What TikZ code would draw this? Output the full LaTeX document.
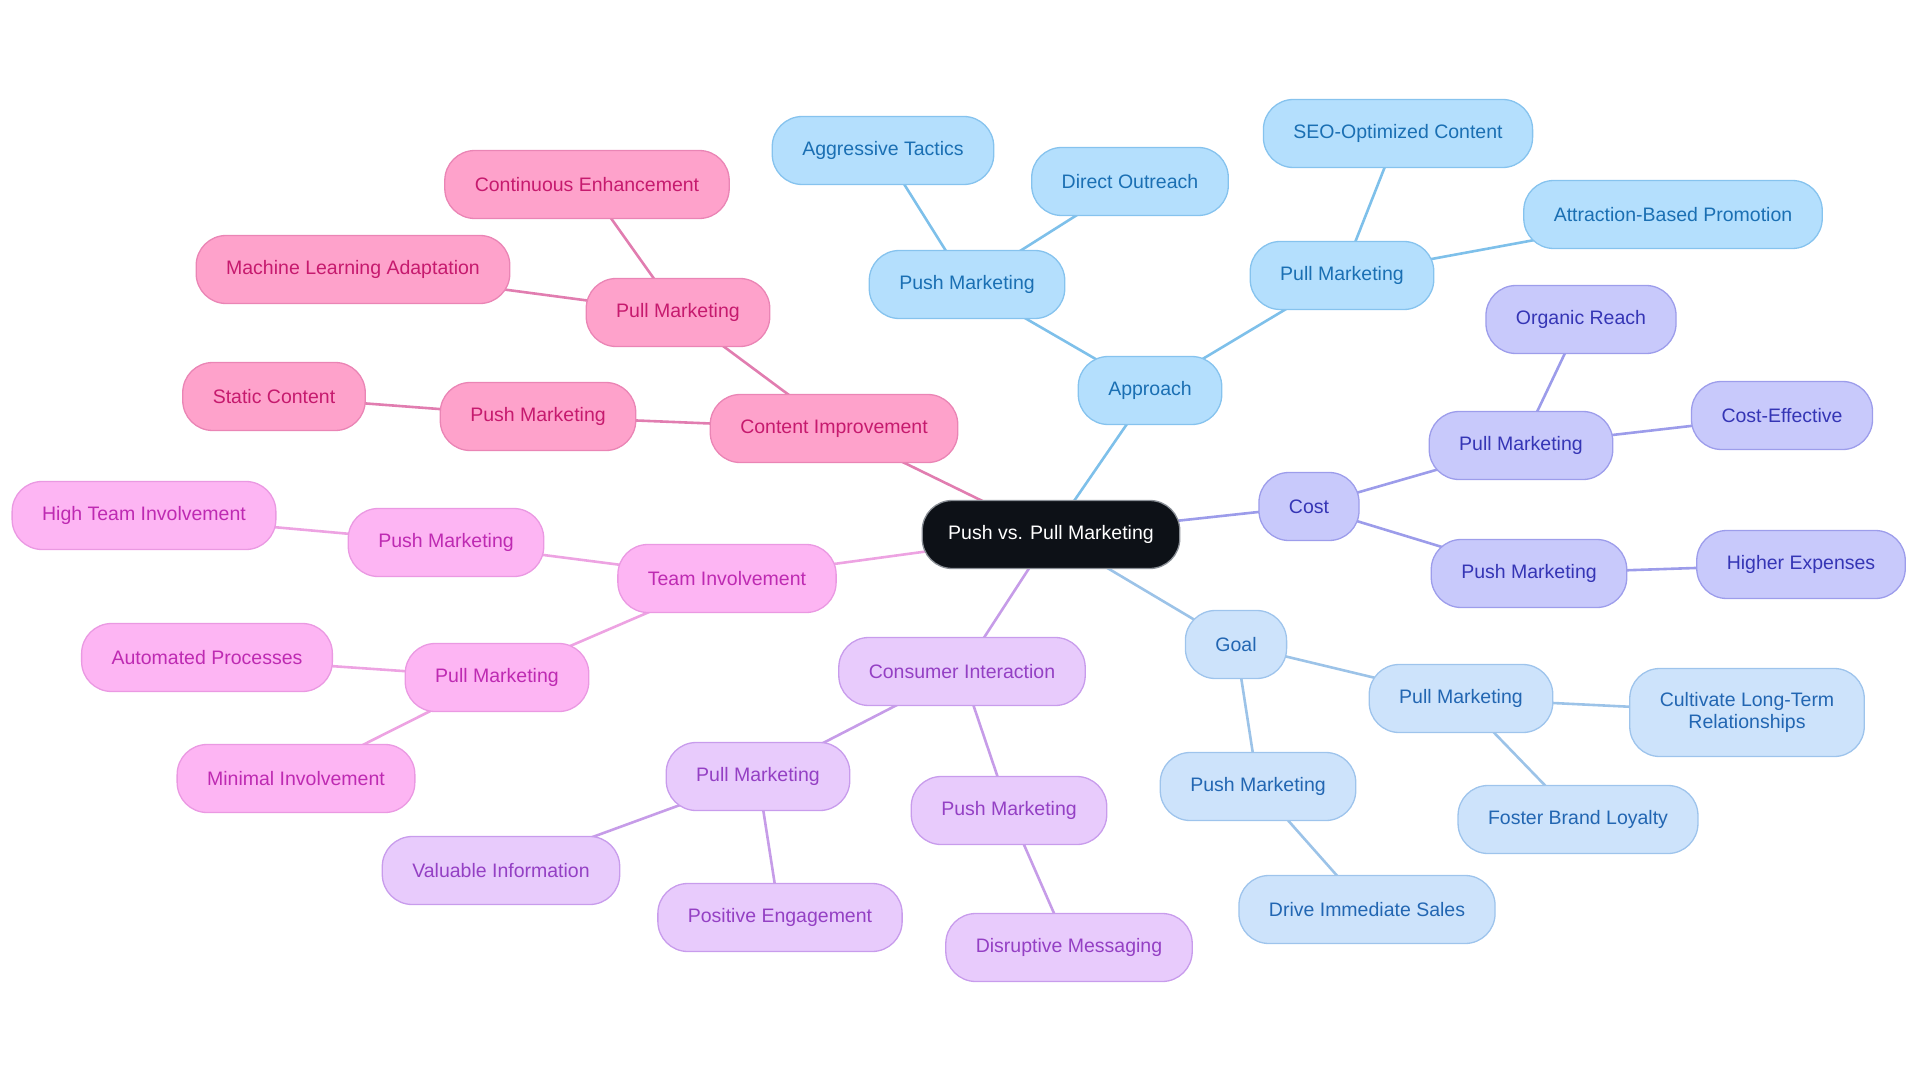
\documentclass[tikz,border=0pt]{standalone}
\usepackage{fontspec}
\setmainfont{Liberation Sans}
\usetikzlibrary{backgrounds}
\definecolor{cFill}{HTML}{0D1117}
\definecolor{cDraw}{HTML}{8A8F96}
\definecolor{apFill}{HTML}{B4DFFD}\definecolor{apDraw}{HTML}{86C3EE}\definecolor{apText}{HTML}{1A6FB3}\definecolor{apEdge}{HTML}{7EC0EA}
\definecolor{coFill}{HTML}{C8C9FB}\definecolor{coDraw}{HTML}{9D9DEB}\definecolor{coText}{HTML}{3535B5}\definecolor{coEdge}{HTML}{9C9CEA}
\definecolor{goFill}{HTML}{CDE3FB}\definecolor{goDraw}{HTML}{9EC4EC}\definecolor{goText}{HTML}{2266B2}\definecolor{goEdge}{HTML}{9CC3E8}
\definecolor{ciFill}{HTML}{E8CBFC}\definecolor{ciDraw}{HTML}{C89CEC}\definecolor{ciText}{HTML}{9440C4}\definecolor{ciEdge}{HTML}{C69CE8}
\definecolor{tiFill}{HTML}{FDB5F3}\definecolor{tiDraw}{HTML}{EA99E2}\definecolor{tiText}{HTML}{BE2AB2}\definecolor{tiEdge}{HTML}{EDA3E2}
\definecolor{cmFill}{HTML}{FEA2CB}\definecolor{cmDraw}{HTML}{EA85B5}\definecolor{cmText}{HTML}{C61A6E}\definecolor{cmEdge}{HTML}{E17DB0}
\tikzset{
  basebox/.style={rectangle, rounded corners=30pt, minimum height=68pt, inner xsep=30pt, inner ysep=6pt, line width=1.3pt, align=center, font=\fontsize{19.5}{22}\selectfont},
  centralbox/.style={basebox, fill=cFill, draw=cDraw, text=white, inner xsep=26pt},
  apbox/.style={basebox, fill=apFill, draw=apDraw, text=apText},
  cobox/.style={basebox, fill=coFill, draw=coDraw, text=coText},
  gobox/.style={basebox, fill=goFill, draw=goDraw, text=goText},
  cibox/.style={basebox, fill=ciFill, draw=ciDraw, text=ciText},
  tibox/.style={basebox, fill=tiFill, draw=tiDraw, text=tiText},
  cmbox/.style={basebox, fill=cmFill, draw=cmDraw, text=cmText},
  edge/.style={line width=2.6pt},
}
\begin{document}
\begin{tikzpicture}[x=1pt,y=-1pt]
\useasboundingbox (0,0) rectangle (1920,1083);
\begin{scope}[yshift=-2.5pt]
\node[centralbox] (c) at (1051,532) {Push vs. Pull Marketing};
% Approach
\node[apbox] (ap) at (1150,388) {Approach};
\node[apbox] (ap1) at (967,282) {Push Marketing};
\node[apbox] (ap1a) at (883,148) {Aggressive Tactics};
\node[apbox] (ap1b) at (1130,179) {Direct Outreach};
\node[apbox] (ap2) at (1342,273) {Pull Marketing};
\node[apbox] (ap2a) at (1398,131) {SEO-Optimized Content};
\node[apbox] (ap2b) at (1673,212) {Attraction-Based Promotion};
% Cost
\node[cobox] (co) at (1309,504) {Cost};
\node[cobox] (co1) at (1521,443) {Pull Marketing};
\node[cobox] (co1a) at (1581,317) {Organic Reach};
\node[cobox] (co1b) at (1782,413) {Cost-Effective};
\node[cobox] (co2) at (1529,571) {Push Marketing};
\node[cobox] (co2a) at (1801,562) {Higher Expenses};
% Goal
\node[gobox] (go) at (1236,642) {Goal};
\node[gobox] (go1) at (1461,696) {Pull Marketing};
\node[gobox, minimum height=88pt] (go1a) at (1747,710) {Cultivate Long-Term\\Relationships};
\node[gobox] (go1b) at (1578,817) {Foster Brand Loyalty};
\node[gobox] (go2) at (1258,784) {Push Marketing};
\node[gobox] (go2a) at (1367,907) {Drive Immediate Sales};
% Consumer Interaction
\node[cibox] (ci) at (962,669) {Consumer Interaction};
\node[cibox] (ci1) at (758,774) {Pull Marketing};
\node[cibox] (ci1a) at (501,868) {Valuable Information};
\node[cibox] (ci1b) at (780,915) {Positive Engagement};
\node[cibox] (ci2) at (1009,808) {Push Marketing};
\node[cibox] (ci2a) at (1069,945) {Disruptive Messaging};
% Team Involvement
\node[tibox] (ti) at (727,576) {Team Involvement};
\node[tibox] (ti1) at (446,540) {Push Marketing};
\node[tibox] (ti1a) at (144,513) {High Team Involvement};
\node[tibox] (ti2) at (497,675) {Pull Marketing};
\node[tibox] (ti2a) at (207,655) {Automated Processes};
\node[tibox] (ti2b) at (296,776) {Minimal Involvement};
% Content Improvement
\node[cmbox] (cm) at (834,426) {Content Improvement};
\node[cmbox] (cm1) at (538,414) {Push Marketing};
\node[cmbox] (cm1a) at (274,394) {Static Content};
\node[cmbox] (cm2) at (678,310) {Pull Marketing};
\node[cmbox] (cm2a) at (587,182) {Continuous Enhancement};
\node[cmbox] (cm2b) at (353,267) {Machine Learning Adaptation};
\end{scope}
\begin{scope}[on background layer]
\draw[edge, apEdge] (c.center) -- (ap.center) (ap.center) -- (ap1.center) (ap1.center) -- (ap1a.center) (ap1.center) -- (ap1b.center) (ap.center) -- (ap2.center) (ap2.center) -- (ap2a.center) (ap2.center) -- (ap2b.center);
\draw[edge, coEdge] (c.center) -- (co.center) (co.center) -- (co1.center) (co1.center) -- (co1a.center) (co1.center) -- (co1b.center) (co.center) -- (co2.center) (co2.center) -- (co2a.center);
\draw[edge, goEdge] (c.center) -- (go.center) (go.center) -- (go1.center) (go1.center) -- (go1a.center) (go1.center) -- (go1b.center) (go.center) -- (go2.center) (go2.center) -- (go2a.center);
\draw[edge, ciEdge] (c.center) -- (ci.center) (ci.center) -- (ci1.center) (ci1.center) -- (ci1a.center) (ci1.center) -- (ci1b.center) (ci.center) -- (ci2.center) (ci2.center) -- (ci2a.center);
\draw[edge, tiEdge] (c.center) -- (ti.center) (ti.center) -- (ti1.center) (ti1.center) -- (ti1a.center) (ti.center) -- (ti2.center) (ti2.center) -- (ti2a.center) (ti2.center) -- (ti2b.center);
\draw[edge, cmEdge] (c.center) -- (cm.center) (cm.center) -- (cm1.center) (cm1.center) -- (cm1a.center) (cm.center) -- (cm2.center) (cm2.center) -- (cm2a.center) (cm2.center) -- (cm2b.center);
\end{scope}
\end{tikzpicture}
\end{document}
